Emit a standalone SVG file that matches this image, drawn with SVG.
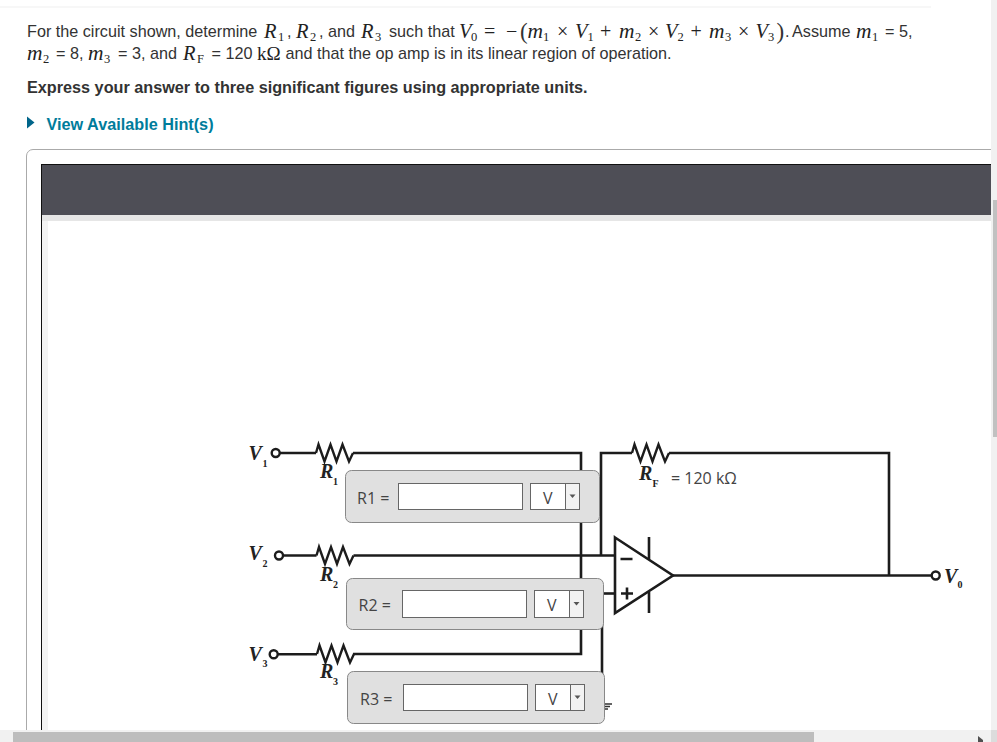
<svg xmlns="http://www.w3.org/2000/svg" width="997" height="742" viewBox="0 0 997 742">
<style>
text{font-family:"Liberation Sans",Arial,sans-serif;fill:#333;white-space:pre}
.b{font-size:16.2px}
.h{font-size:16.23px;font-weight:bold}
.m{font-family:"Liberation Serif","Times New Roman",serif;font-size:20.5px;font-style:italic;fill:#222}
.u{font-family:"Liberation Serif","Times New Roman",serif;font-size:20px;fill:#222}
.p{font-family:"Liberation Serif","Times New Roman",serif;font-size:23px;fill:#333}
.s{font-family:"Liberation Serif","Times New Roman",serif;font-size:12.5px;fill:#222}
.c{font-family:"Liberation Serif","Times New Roman",serif;font-size:20px;font-weight:bold;font-style:italic;fill:#222}
.cs{font-family:"Liberation Serif","Times New Roman",serif;font-size:10px;font-weight:bold;fill:#222}
.w{fill:none;stroke:#1c1c1c;stroke-width:2.6}
.z{fill:none;stroke:#1c1c1c;stroke-width:2.4;stroke-linejoin:miter}
.t{fill:#fff;stroke:#1c1c1c;stroke-width:2.4}
.box{fill:#e0e0e0;stroke:#888;stroke-width:1}
.inp{fill:#fff;stroke:#666;stroke-width:1}
.arr{fill:#f2f2f2;stroke:#666;stroke-width:1}
.l{font-family:"Open Sans","Noto Sans",sans-serif;font-size:16px;fill:#444}
</style>
<defs>
<path id="zig" d="M0 0L2.500 -8.500L8.500 8.500L14.500 -8.500L20.500 8.500L26.500 -8.500L33 8.500L37 0" class="z"/>
</defs>
<rect width="997" height="742" fill="#fff"/>
<rect x="0" y="6" width="931" height="2" fill="#f7f7f7"/>

<g id="question">
<text class="b" x="27" y="37">For the circuit shown, determine</text>
<text class="m" x="264" y="37.500">R</text><text class="s" x="278" y="40.500">1</text>
<text class="b" x="287" y="37">,</text>
<text class="m" x="296" y="37.500">R</text><text class="s" x="310" y="40.500">2</text>
<text class="b" x="319" y="37">,</text>
<text class="b" x="328" y="37">and</text>
<text class="m" x="361" y="37.500">R</text><text class="s" x="375" y="40.500">3</text>
<text class="b" x="389" y="37">such that</text>
<text class="m" x="459" y="37.500">V</text><text class="s" x="471" y="40.500">0</text>
<text class="u" x="484" y="38">=</text>
<text class="u" x="506" y="38">−</text><text class="p" x="520" y="38.500">(</text>
<text class="m" x="527.500" y="37.500" textLength="15.500" lengthAdjust="spacingAndGlyphs">m</text><text class="s" x="543" y="40.500">1</text>
<text class="u" x="557" y="38">×</text>
<text class="m" x="575" y="37.500">V</text><text class="s" x="587.500" y="40.500">1</text>
<text class="u" x="600" y="38">+</text>
<text class="m" x="619" y="37.500" textLength="15.500" lengthAdjust="spacingAndGlyphs">m</text><text class="s" x="635" y="40.500">2</text>
<text class="u" x="648" y="38">×</text>
<text class="m" x="665" y="37.500">V</text><text class="s" x="677.500" y="40.500">2</text>
<text class="u" x="690.500" y="38">+</text>
<text class="m" x="709" y="37.500" textLength="15.500" lengthAdjust="spacingAndGlyphs">m</text><text class="s" x="725" y="40.500">3</text>
<text class="u" x="738" y="38">×</text>
<text class="m" x="755.500" y="37.500">V</text><text class="s" x="768" y="40.500">3</text>
<text class="p" x="776.500" y="38.500">)</text>
<text class="b" x="785" y="37">.</text>
<text class="b" x="792" y="37">Assume</text>
<text class="m" x="856" y="37.500" textLength="15.500" lengthAdjust="spacingAndGlyphs">m</text><text class="s" x="872" y="40.500">1</text>
<text class="b" x="885" y="37">= 5,</text>
<text class="m" x="27" y="59.500" textLength="15.500" lengthAdjust="spacingAndGlyphs">m</text><text class="s" x="43" y="62.500">2</text>
<text class="b" x="56" y="59">= 8,</text>
<text class="m" x="88" y="59.500" textLength="15.500" lengthAdjust="spacingAndGlyphs">m</text><text class="s" x="104" y="62.500">3</text>
<text class="b" x="118" y="59">= 3, and</text>
<text class="m" x="183" y="59.500">R</text><text class="s" x="197" y="62.500">F</text>
<text class="b" x="211.500" y="59">= 120</text>
<text class="u" x="257" y="60" style="font-size:19px">kΩ</text>
<text class="b" x="285.500" y="59">and that the op amp is in its linear region of operation.</text>
<text class="h" x="27" y="93">Express your answer to three significant figures using appropriate units.</text>
</g>

<g id="hint">
<path d="M27 116.500L34.500 122.500L27 128.500Z" fill="#00658a"/>
<text class="h" x="46.500" y="129.500" style="fill:#007c9b">View Available Hint(s)</text>
</g>

<g id="panel">
<path d="M991 149.500H33a6.500 6.500 0 0 0-6.500 6.500V730" fill="none" stroke="#aaa" stroke-width="1"/>
<rect x="41" y="164" width="950" height="566" fill="#111"/>
<rect x="42" y="165" width="949" height="50" fill="#4e4e56"/>
<rect x="42" y="215" width="949" height="515" fill="#fff"/>
<rect x="42" y="215" width="949" height="6" fill="#e6e6e6"/>
<rect x="42" y="221" width="6" height="509" fill="#f3f3f3"/>
</g>

<g id="connectors">
<path class="w" d="M279 453H316"/>
<use href="#zig" x="316" y="453"/>
<path class="w" d="M353 453H581V654H353"/>
<path class="w" d="M282 555.500H316.500"/>
<use href="#zig" x="316.500" y="555.500"/>
<path class="w" d="M353.500 555.500H615"/>
<path class="w" d="M277 654.300H317"/>
<use href="#zig" x="317" y="654"/>
<path class="w" d="M601 555.500V453H632"/>
<use href="#zig" x="632" y="453"/>
<path class="w" d="M669 453H889V575.500"/>
<path class="w" d="M673 575.500H932"/>
<path class="w" d="M602 593.500H615"/>
<path class="w" d="M602 593.500V704"/>
<path d="M602 704H612M604 706.500H610M605 709H608" fill="none" stroke="#333" stroke-width="1.500"/>
</g>

<g id="opamp">
<path d="M615 537.500L673 575.500L615 613Z" fill="#fff" stroke="#1c1c1c" stroke-width="2.600"/>
<path class="w" d="M649 537V559M649 592V613"/>
<path d="M620.500 559H632.500M621 593.500H633M627 587.500V599.500" fill="none" stroke="#1c1c1c" stroke-width="2.600"/>
</g>

<g id="V1"><circle class="t" cx="275.700" cy="453" r="4"/><text class="c" x="248.500" y="460">V</text><text class="cs" x="262.500" y="467">1</text></g>
<g id="V2"><circle class="t" cx="279" cy="555.500" r="4"/><text class="c" x="248.500" y="560">V</text><text class="cs" x="262.500" y="567">2</text></g>
<g id="V3"><circle class="t" cx="273.700" cy="654.300" r="4"/><text class="c" x="248.500" y="661">V</text><text class="cs" x="262.500" y="667">3</text></g>
<g id="V0"><circle class="t" cx="935.700" cy="575.500" r="4"/><text class="c" x="944" y="583">V</text><text class="cs" x="957.500" y="588">0</text></g>
<g id="R1"><text class="c" x="320" y="478">R</text><text class="cs" x="333" y="485">1</text></g>
<g id="R2"><text class="c" x="320" y="581">R</text><text class="cs" x="333" y="588">2</text></g>
<g id="R3"><text class="c" x="320" y="678">R</text><text class="cs" x="333" y="685">3</text></g>
<g id="RF"><text class="c" x="639" y="480">R</text><text class="cs" x="652.500" y="487">F</text><text class="l" x="671" y="484">= 120 kΩ</text></g>

<g id="answer-R1">
<rect class="box" x="345.500" y="470.500" width="254" height="52" rx="6"/>
<text class="l" x="357" y="504">R1 =</text>
<rect class="inp" x="398.500" y="483.500" width="124" height="26"/>
<rect class="inp" x="530.500" y="483.500" width="35" height="26"/>
<rect class="arr" x="565.500" y="483.500" width="14" height="26"/>
<path d="M569.500 494.500H575.500L572.500 498Z" fill="#555"/>
<text class="l" x="543" y="504">V</text>
</g>
<g id="answer-R2">
<rect class="box" x="346.500" y="578.500" width="257" height="51" rx="6"/>
<text class="l" x="358.500" y="611">R2 =</text>
<rect class="inp" x="402.500" y="590.500" width="124" height="27"/>
<rect class="inp" x="534.500" y="590.500" width="35" height="27"/>
<rect class="arr" x="569.500" y="590.500" width="14" height="27"/>
<path d="M573.500 602H579.500L576.500 605.500Z" fill="#555"/>
<text class="l" x="547" y="611">V</text>
</g>
<g id="answer-R3">
<rect class="box" x="347.500" y="671.500" width="257" height="52" rx="6"/>
<text class="l" x="360" y="705">R3 =</text>
<rect class="inp" x="403.500" y="684.500" width="124" height="26"/>
<rect class="inp" x="535.500" y="684.500" width="35" height="26"/>
<rect class="arr" x="570.500" y="684.500" width="14" height="26"/>
<path d="M574.500 695.500H580.500L577.500 699Z" fill="#555"/>
<text class="l" x="548" y="705">V</text>
</g>

<g id="scrollbars">
<rect x="991" y="0" width="6" height="730" fill="#f1f1f1"/>
<rect x="993" y="200" width="4" height="237" fill="#c1c1c1"/>
<rect x="0" y="730" width="997" height="12" fill="#f1f1f1"/>
<rect x="13" y="732" width="801" height="10" fill="#bdbdbd"/>
<rect x="991" y="730" width="6" height="12" fill="#dcdcdc"/>
<path d="M978 736L983 740V742H978Z" fill="#505050"/>
</g>
</svg>
